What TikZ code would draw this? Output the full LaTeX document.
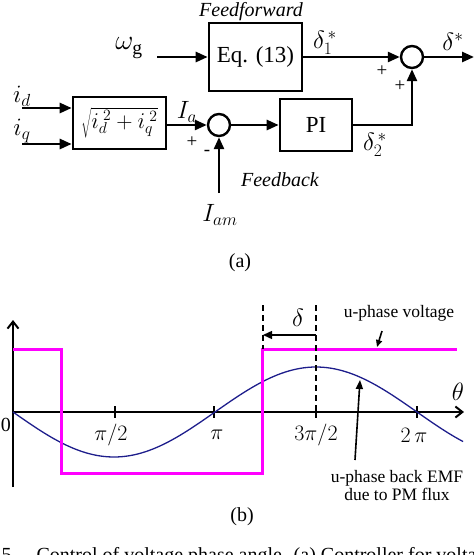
\RequirePackage{fix-cm}
\documentclass[tikz,border=0pt]{standalone}
\usepackage{fontspec}
\setmainfont{Liberation Serif}
\usetikzlibrary{arrows.meta}
\begin{document}
\begin{tikzpicture}[x=1pt,y=-1pt,
  blk/.style={draw, line width=2.6pt, inner sep=0pt, font=\fontsize{23}{26}\selectfont},
  sumc/.style={draw, circle, line width=2.4pt, minimum size=22pt, inner sep=0pt},
  arr/.style={line width=2.6pt, -{Triangle[length=12pt,width=10pt]}},
  lbl/.style={inner sep=0pt, font=\fontsize{25}{28}\selectfont},
  sgn/.style={inner sep=0pt, font=\fontsize{19}{20}\selectfont},
  itl/.style={inner sep=0pt, font=\fontsize{20}{24}\selectfont\itshape},
  txt/.style={inner sep=0pt, font=\fontsize{17.5}{19}\selectfont},
  tck/.style={inner sep=0pt, font=\fontsize{22}{24}\selectfont},
  axisl/.style={line width=2pt},
  emf/.style={line width=1.3pt, draw={rgb,255:red,30;green,30;blue,140}},
  volt/.style={line width=3pt, draw={rgb,255:red,255;green,0;blue,255}},
  dsh/.style={line width=1.4pt, dashed, dash pattern=on 6pt off 4pt}
]
\useasboundingbox (0,0) rectangle (474,555);
% ---------- (a) block diagram ----------
\node[blk, minimum width=93pt, minimum height=68pt] (eq) at (255.5,57) {Eq. (13)};
\node[sumc] (s1) at (412,57) {};
\node[blk, minimum width=72pt, minimum height=52pt] (pi) at (316,125) {PI};
\node[blk, minimum width=93pt, minimum height=52pt, font=\fontsize{22.5}{24}\selectfont] (sq) at (119.5,123) {$\sqrt{i_d^{\;2}+i_q^{\;2}}$};
\node[sumc] (s2) at (219,125) {};

\coordinate (wg) at (157,57);
\coordinate (out) at (474,57);
\coordinate (idin) at (22,108);
\coordinate (iqin) at (22,144);
\coordinate (iam) at (219,193);

\draw[arr] (wg) -- (eq);
\draw[arr] (eq) -- (s1);
\draw[arr] (s1) -- (out);
\draw[arr] (pi.east) -| (s1.south);
\draw[arr] (idin) -- (idin -| sq.west);
\draw[arr] (iqin) -- (iqin -| sq.west);
\draw[arr] (sq.east |- s2) -- (s2);
\draw[arr] (s2) -- (pi);
\draw[arr] (iam) -- (s2);

\node[itl] (ff) at (251,12) {Feedforward};
\node[lbl, font=\fontsize{28}{30}\selectfont] (lwg) at (129,48) {$\omega_{\mathrm{g}}$};
\node[lbl] (ld1) at (325,43) {$\delta_1^{\,*}$};
\node[lbl] (ldo) at (453,42) {$\delta^{*}$};
\node[sgn] (p1) at (382,71) {+};
\node[sgn] (p2) at (400,86) {+};
\node[lbl] (ld2) at (375,145) {$\delta_2^{\,*}$};
\node[lbl] (lid) at (22,96) {$i_d$};
\node[lbl] (liq) at (22,131) {$i_q$};
\node[lbl] (lia) at (187,112) {$I_a$};
\node[sgn] (p3) at (192,142) {+};
\node[sgn] (m3) at (207,153) {-};
\node[itl] (fb) at (280,180) {Feedback};
\node[lbl] (liam) at (220,215) {$I_{am}$};
\node[txt, font=\fontsize{20}{24}\selectfont] (capa) at (240,263) {(a)};

% ---------- (b) waveform ----------
\coordinate (o) at (13,412);
\coordinate (ytop) at (13,320);
\coordinate (ybot) at (13,487);
\coordinate (xend) at (464,412);
\draw[axisl, -{Straight Barb[length=7pt,width=11pt]}] (ybot) -- (ytop);
\draw[axisl, -{Straight Barb[length=7pt,width=11pt]}] (o) -- (xend);
\foreach \x in {115,214,316,417} \draw[axisl] (\x,406) -- (\x,418);

\draw[emf] plot[domain=0:7.0, samples=120] ({13+64.3*\x}, {412+45*sin(\x r)});
\draw[volt] (13,349) -- (61,349) -- (61,473) -- (262,473) -- (262,349) -- (457,349);

\draw[dsh] (263,305) -- (263,349);
\draw[dsh] (316,305) -- (316,412);
\coordinate (da) at (316,335);
\coordinate (db) at (263,335);
\draw[line width=1.4pt, -{Triangle[length=9pt,width=8pt]}] (da) -- (db);
\node[lbl] (ldel) at (298,318) {$\delta$};

\node[txt] (uv) at (399,313) {u-phase voltage};
\coordinate (uva) at (382,331);
\coordinate (uvb) at (377,347);
\draw[line width=1.6pt, -{Triangle[length=7pt,width=6pt]}] (uva) -- (uvb);

\node[lbl] (lth) at (458,392) {$\theta$};
\node[tck, font=\fontsize{20}{22}\selectfont] (l0) at (6,425) {0};
\node[tck] (lp2) at (111,435) {$\pi/2$};
\node[tck] (lp) at (217,435) {$\pi$};
\node[tck] (l3p) at (316,435) {$3\pi/2$};
\node[tck] (l2p) at (414,435) {$2\,\pi$};

\coordinate (ea) at (355,460);
\coordinate (eb) at (360,380);
\draw[line width=1.6pt, -{Triangle[length=9pt,width=7pt]}] (ea) -- (eb);
\node[txt, align=center, font=\fontsize{17.5}{18}\selectfont] (emftxt) at (397,486) {u-phase back EMF\\due to PM flux};

\node[txt, font=\fontsize{20}{24}\selectfont] (capb) at (242,517) {(b)};

\begin{scope}
\clip (0,0) rectangle (474,555);
\node[txt, anchor=base west, font=\fontsize{20}{24}\selectfont] (cap) at (-37,561) {Fig. 5.\hspace{20pt}Control of voltage phase angle. (a) Controller for voltage phase angle};
\end{scope}
\end{tikzpicture}
\end{document}
